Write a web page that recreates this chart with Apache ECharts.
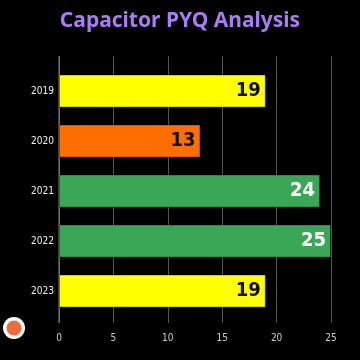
<!DOCTYPE html>
<html><head><meta charset="utf-8">
<script src="https://cdn.jsdelivr.net/npm/echarts@6/dist/echarts.min.js"></script>
<style>html,body{margin:0;padding:0;background:#000}#c{width:360px;height:360px}</style>
</head><body><div id="c"></div>
<script>
const categories = ['2019','2020','2021','2022','2023'];
const values = [19, 13, 24, 25, 19];
const barColors = ['#ffff00','#ff6f00','#3aa757','#3aa757','#ffff00'];
const labelColors = ['#111','#111','#fff','#fff','#111'];
const xTicks = [0,5,10,15,20,25];
const cond = '"DejaVu Sans Condensed", "Roboto Condensed", Roboto, sans-serif';

const chart = echarts.init(document.getElementById('c'));
chart.setOption({
  backgroundColor: '#000',
  animation: false,
  title: {
    text: 'Capacitor PYQ Analysis', left: 'center', top: 6,
    textStyle: { color: '#a97cf5', fontSize: 21, fontWeight: 'bold', fontFamily: 'Noto Sans' }
  },
  grid: [
    { left: 59, right: 29, top: 66, bottom: 44, containLabel: false },
    { left: 59, right: 29, top: 56, bottom: 37, containLabel: false }
  ],
  xAxis: [
    { gridIndex: 0, type: 'value', min: 0, max: 25, interval: 5,
      axisLine: { show: false }, axisTick: { show: false }, splitLine: { show: false },
      axisLabel: { show: false } },
    { gridIndex: 1, type: 'value', min: 0, max: 25, interval: 5,
      axisLine: { show: false }, axisTick: { show: false },
      splitLine: { show: true, lineStyle: { color: '#555', width: 1 } },
      axisLabel: { color: '#ccc', fontSize: 10, margin: 10, fontFamily: cond } }
  ],
  yAxis: [
    { gridIndex: 0, type: 'category', data: categories, inverse: true,
      axisLine: { show: false }, axisTick: { show: false },
      axisLabel: { color: '#eee', fontSize: 10, margin: 5, fontFamily: cond } },
    { gridIndex: 1, type: 'category', data: [], show: false }
  ],
  series: [{
    type: 'bar', xAxisIndex: 0, yAxisIndex: 0,
    data: values.map((v, i) => ({
      value: v,
      itemStyle: { color: barColors[i], borderColor: 'rgba(0,0,0,0.35)', borderWidth: 1 },
      label: { color: labelColors[i] }
    })),
    barWidth: 33,
    label: { show: true, position: 'insideRight', distance: 5, fontSize: 20, fontWeight: 'bold',
      fontFamily: cond },
    z: 3
  }],
  graphic: [
    { type: 'circle', shape: { cx: 14, cy: 328, r: 11 }, style: { fill: '#fff' } },
    { type: 'circle', shape: { cx: 14, cy: 328, r: 7.5 }, style: { fill: '#f26b3a' } },
    { type: 'line', shape: { x1: 59, y1: 56, x2: 59, y2: 323 }, style: { stroke: '#888', lineWidth: 1 }, z: 1 }
  ]
});
</script></body></html>
